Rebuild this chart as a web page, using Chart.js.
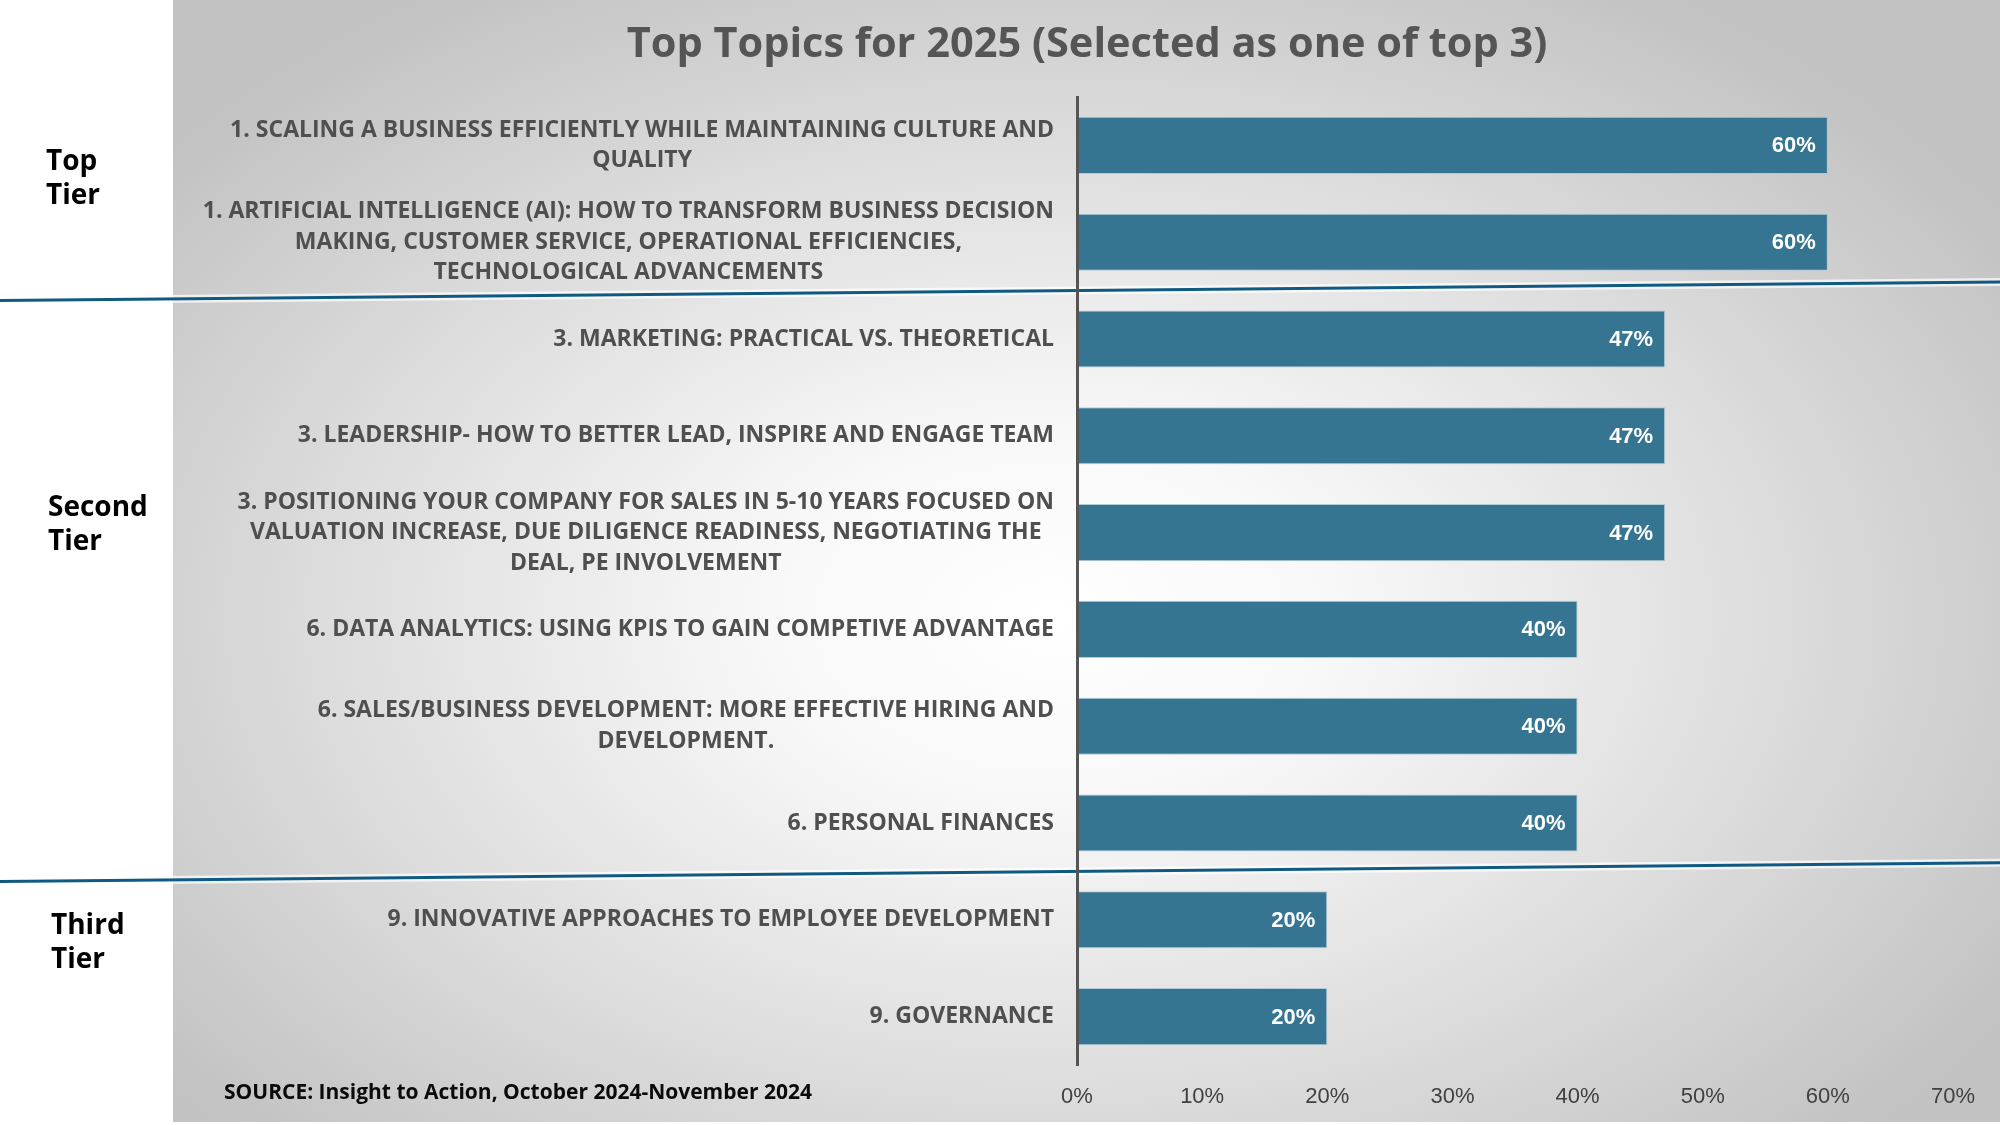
<!DOCTYPE html>
<html>
<head>
<meta charset="utf-8">
<script src="https://cdn.jsdelivr.net/npm/chart.js@4.4.1/dist/chart.umd.min.js"></script>
<style>
  html, body { margin: 0; padding: 0; background: #fff; }
  #wrap { position: relative; width: 2000px; height: 1125px; overflow: hidden; }
  #panel {
    position: absolute; left: 173px; top: 0; width: 1827px; height: 1122px;
    background: radial-gradient(ellipse 62% 66% at 48% 55%, #ffffff 0%, #f8f8f8 25%, #dcdcdc 65%, #c2c2c2 100%);
  }
  #chart { position: absolute; left: 0; top: 0; }
</style>
</head>
<body>
<div id="wrap">
  <div id="panel"></div>
  <canvas id="chart" width="2000" height="1125"></canvas>
</div>
<script>
const chartTitle = "Top Topics for 2025 (Selected as one of top 3)";
const topics = [
  ["1. SCALING A BUSINESS EFFICIENTLY WHILE MAINTAINING CULTURE AND", "QUALITY"],
  ["1. ARTIFICIAL INTELLIGENCE (AI): HOW TO TRANSFORM BUSINESS DECISION", "MAKING, CUSTOMER SERVICE, OPERATIONAL EFFICIENCIES,", "TECHNOLOGICAL ADVANCEMENTS"],
  ["3. MARKETING: PRACTICAL VS. THEORETICAL"],
  ["3. LEADERSHIP- HOW TO BETTER LEAD, INSPIRE AND ENGAGE TEAM"],
  ["3. POSITIONING YOUR COMPANY FOR SALES IN 5-10 YEARS FOCUSED ON", "VALUATION INCREASE, DUE DILIGENCE READINESS, NEGOTIATING THE", "DEAL, PE INVOLVEMENT"],
  ["6. DATA ANALYTICS: USING KPIS TO GAIN COMPETIVE ADVANTAGE"],
  ["6. SALES/BUSINESS DEVELOPMENT: MORE EFFECTIVE HIRING AND", "DEVELOPMENT."],
  ["6. PERSONAL FINANCES"],
  ["9. INNOVATIVE APPROACHES TO EMPLOYEE DEVELOPMENT"],
  ["9. GOVERNANCE"]
];
const shares = [60, 60, 47, 47, 47, 40, 40, 40, 20, 20];
const tierNames = [["Top", "Tier"], ["Second", "Tier"], ["Third", "Tier"]];
const tierBreaks = [1.5, 7.5];   // boundaries between categories
const sourceNote = "SOURCE: Insight to Action, October 2024-November 2024";

const barBlue = "#367591";
const labelGrey = "#4f4f4f";

// category labels: widest line right-aligned, lines centred on each other
const topicLabels = {
  id: "topicLabels",
  afterDraw(chart) {
    const ctx = chart.ctx;
    const y = chart.scales.y;
    const right = chart.chartArea.left - 23;
    ctx.save();
    ctx.font = "bold 23px 'Open Sans'";
    ctx.fillStyle = labelGrey;
    ctx.textAlign = "center";
    ctx.textBaseline = "middle";
    topics.forEach((lines, i) => {
      const yc = y.getPixelForValue(i);
      const widest = Math.max(...lines.map((l) => ctx.measureText(l).width));
      const cx = right - widest / 2;
      lines.forEach((l, j) => {
        ctx.fillText(l, cx, yc + (j - (lines.length - 1) / 2) * 30.6);
      });
    });
    // title centred over the grey panel
    ctx.font = "bold 41.5px 'Open Sans'";
    ctx.fillStyle = "#555555";
    ctx.fillText(chartTitle, 1087, 45);
    ctx.restore();
  }
};

// white value labels at the end of each bar
const valueLabels = {
  id: "valueLabels",
  afterDatasetsDraw(chart) {
    const ctx = chart.ctx;
    const meta = chart.getDatasetMeta(0);
    ctx.save();
    ctx.font = "bold 22px 'Liberation Sans'";
    ctx.fillStyle = "#ffffff";
    ctx.textAlign = "right";
    ctx.textBaseline = "middle";
    meta.data.forEach((bar, i) => {
      ctx.fillText(shares[i] + "%", bar.x - 12, bar.y + 1);
    });
    ctx.restore();
  }
};

// sloped tier separators, tier names and source note
const tiers = {
  id: "tiers",
  afterDatasetsDraw(chart) {
    const ctx = chart.ctx;
    const y = chart.scales.y;
    const x0 = chart.chartArea.left;
    const slope = -0.0093;
    ctx.save();
    tierBreaks.forEach((b) => {
      const ym = y.getPixelForValue(b);
      const ya = ym + slope * (0 - x0);
      const yb = ym + slope * (2000 - x0);
      ctx.strokeStyle = "rgba(255,255,255,0.7)";
      ctx.lineWidth = 8;
      ctx.beginPath(); ctx.moveTo(0, ya); ctx.lineTo(2000, yb); ctx.stroke();
      ctx.strokeStyle = "#105a82";
      ctx.lineWidth = 3;
      ctx.beginPath(); ctx.moveTo(0, ya); ctx.lineTo(2000, yb); ctx.stroke();
    });
    ctx.restore();
  },
  afterDraw(chart) {
    const ctx = chart.ctx;
    const y = chart.scales.y;
    const anchors = [0.35, 3.92, 8.24];
    const xs = [46, 48, 51];
    ctx.save();
    ctx.font = "bold 28px 'Open Sans'";
    ctx.fillStyle = "#000000";
    ctx.textAlign = "left";
    ctx.textBaseline = "middle";
    tierNames.forEach((lines, i) => {
      const yc = y.getPixelForValue(anchors[i]);
      lines.forEach((l, j) => {
        ctx.fillText(l, xs[i], yc + (j - (lines.length - 1) / 2) * 34.5);
      });
    });
    ctx.font = "bold 21px 'Open Sans'";
    ctx.fillStyle = "#0a0a0a";
    ctx.fillText(sourceNote, 224, 1093);
    ctx.restore();
  }
};

new Chart(document.getElementById("chart"), {
  type: "bar",
  data: {
    labels: topics,
    datasets: [
      {
        data: shares,
        backgroundColor: barBlue,
        borderColor: "rgba(170,200,214,0.9)",
        borderWidth: 1,
        barPercentage: 0.59,
        categoryPercentage: 1,
      },
    ],
  },
  options: {
    indexAxis: "y",
    responsive: false,
    animation: false,
    events: [],
    layout: { padding: { left: 173, right: 47, top: 97, bottom: 0 } },
    plugins: {
      legend: { display: false },
      tooltip: { enabled: false },
      title: { display: false },
    },
    scales: {
      x: {
        min: 0,
        max: 70,
        grid: { display: false, drawTicks: false },
        border: { display: false },
        ticks: {
          stepSize: 10,
          padding: 19,
          color: "#404040",
          font: { family: "'Liberation Sans'", size: 22 },
          callback: (v) => v + "%",
        },
        afterFit: (s) => { s.height = 60; },
      },
      y: {
        grid: { display: false, drawTicks: false },
        border: { display: true, color: "#555555", width: 3, z: 1 },
        ticks: { display: false },
        afterFit: (s) => { s.width = 904; },
      },
    },
  },
  plugins: [topicLabels, valueLabels, tiers],
});
</script>
</body>
</html>
